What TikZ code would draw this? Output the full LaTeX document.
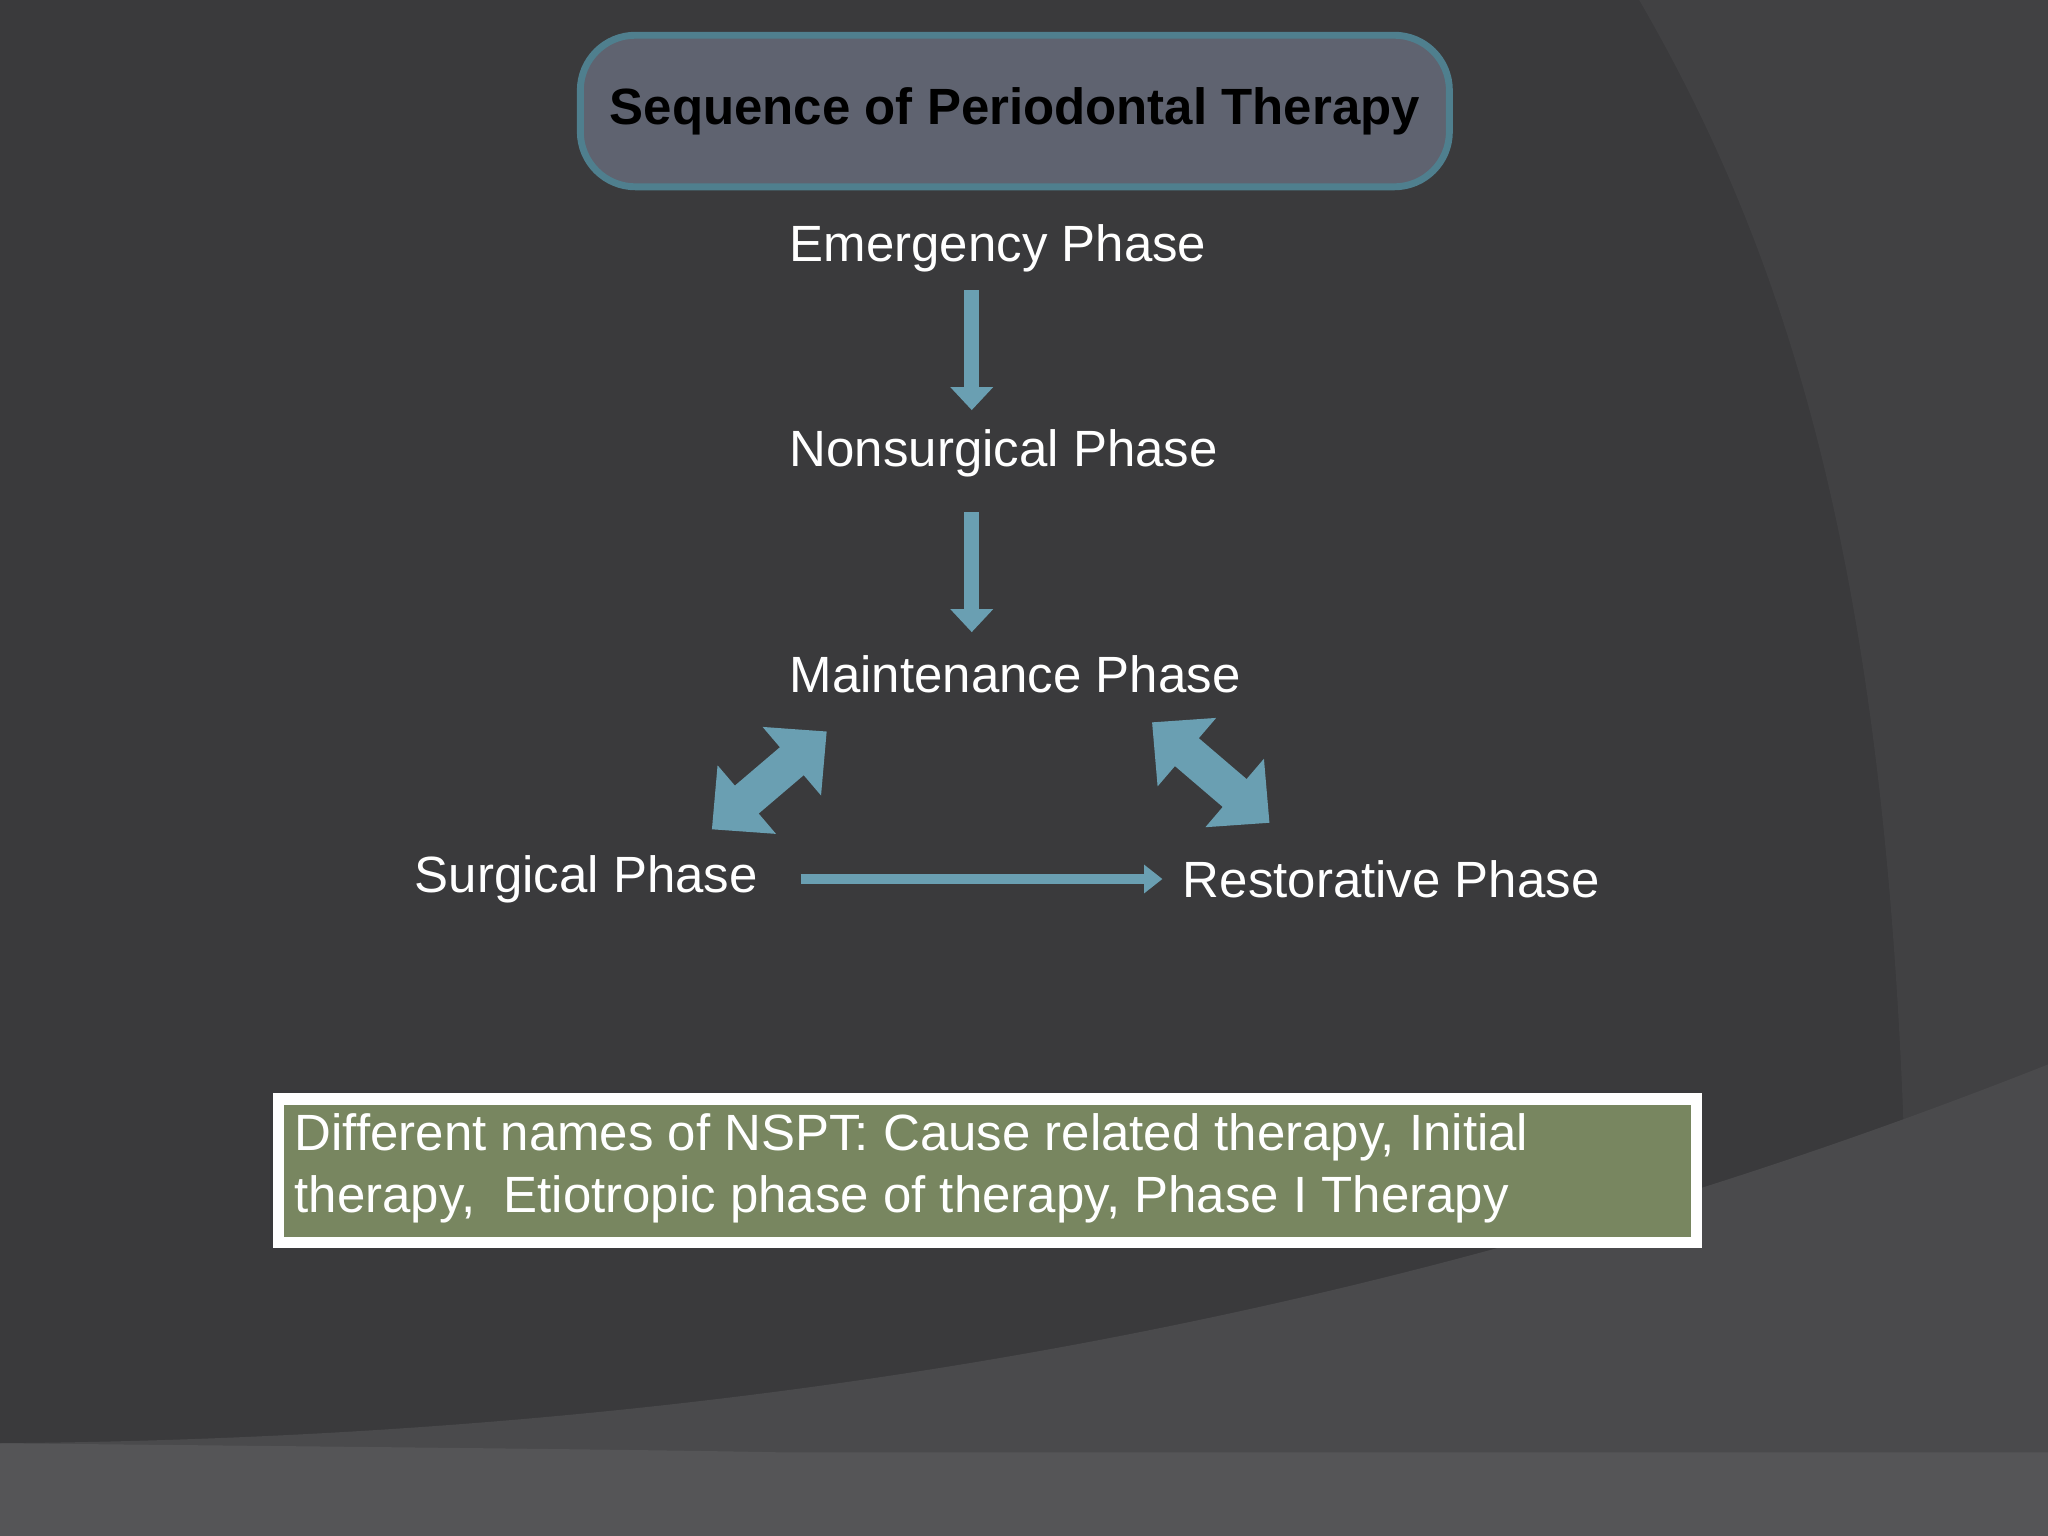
\documentclass[tikz,border=0pt]{standalone}
\usepackage{fontspec}
\setmainfont{Liberation Sans}
\usetikzlibrary{arrows.meta}
\definecolor{bg}{HTML}{3A3A3C}
\definecolor{bgr}{HTML}{414143}
\definecolor{bgb}{HTML}{4A4A4C}
\definecolor{bgs}{HTML}{555557}
\definecolor{tbox}{HTML}{5F6370}
\definecolor{tedge}{HTML}{4F7F8E}
\definecolor{arr}{HTML}{6A9FB2}
\definecolor{gbox}{HTML}{788660}
\tikzset{
 phase/.style={anchor=west,text=white,font=\fontsize{11.1}{13}\selectfont,inner sep=0pt},
 down/.style={draw=arr,line width=3.2pt,-{Triangle[width=9pt,length=5pt]}},
 dbl/.style={draw=arr,line width=8pt,{Triangle[width=19pt,length=10pt]}-{Triangle[width=19pt,length=10pt]}},
 thin/.style={draw=arr,line width=2pt,-{Triangle[width=6pt,length=4pt]}}
}
\begin{document}
\begin{tikzpicture}[x=0.01cm,y=-0.01cm]
\useasboundingbox (0,0) rectangle (1568,1176);
\fill[bg] (0,0) rectangle (1568,1176);
\fill[bgr] (1255,0) .. controls (1400,250) and (1470,550) .. (1460,1176) -- (1568,1176) -- (1568,0) -- cycle;
\fill[bgb] (0,1105) .. controls (600,1100) and (1100,1000) .. (1568,815) -- (1568,1176) -- (0,1176) -- cycle;
\fill[bgs] (0,1105) .. controls (300,1108) and (500,1110) .. (600,1112) -- (1568,1112) -- (1568,1176) -- (0,1176) -- cycle;
\node[draw=tedge,line width=1.5pt,fill=tbox,rounded corners=12pt,minimum width=6.65cm,minimum height=1.16cm,font=\bfseries\fontsize{11.1}{13}\selectfont,text=black] (title) at (777,85) {Sequence of Periodontal Therapy};
\node[phase] (em) at (604,190) {Emergency Phase};
\node[phase] (ns) at (604,347) {Nonsurgical Phase};
\node[phase] (mt) at (604,516) {Maintenance Phase};
\node[phase] (sg) at (317,673) {Surgical Phase};
\node[phase] (rs) at (905,673) {Restorative Phase};
\coordinate (a1) at (744,222); \coordinate (a2) at (744,314);
\coordinate (b1) at (744,392); \coordinate (b2) at (744,484);
\draw[down] (a1) -- (a2);
\draw[down] (b1) -- (b2);
\coordinate (l1) at (545,635); \coordinate (l2) at (633,560);
\coordinate (r1) at (882,553); \coordinate (r2) at (972,630);
\draw[dbl] (l1) -- (l2);
\draw[dbl] (r1) -- (r2);
\coordinate (h1) at (613,673); \coordinate (h2) at (890,673);
\draw[thin] (h1) -- (h2);
\node[draw=white,line width=2.5pt,fill=gbox,minimum width=10.85cm,minimum height=1.1cm,anchor=north west] (nb) at (209,837) {};
\node[anchor=north west,text=white,align=left,inner sep=0pt,font=\fontsize{11.1}{13.4}\selectfont] (nt) at (225,852) {Different names of NSPT: Cause related therapy, Initial\\therapy,\ \ Etiotropic phase of therapy, Phase I Therapy};
\end{tikzpicture}
\end{document}
